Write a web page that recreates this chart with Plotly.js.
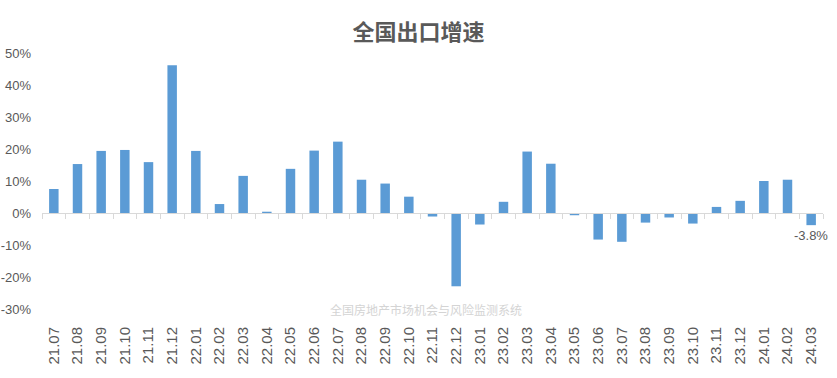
<!DOCTYPE html>
<html>
<head>
<meta charset="utf-8">
<script src="https://cdn.plot.ly/plotly-3.0.1.min.js"></script>
<style>html,body{margin:0;padding:0;background:#fff;}#chart{width:837px;height:378px;}</style>
</head>
<body>
<div id="chart"></div>
<script>
const months = ["21.07","21.08","21.09","21.10","21.11","21.12","22.01","22.02","22.03","22.04","22.05","22.06","22.07","22.08","22.09","22.10","22.11","22.12","23.01","23.02","23.03","23.04","23.05","23.06","23.07","23.08","23.09","23.10","23.11","23.12","24.01","24.02","24.03"];
const growth = [7.5,15.3,19.4,19.7,15.9,46.2,19.4,2.8,11.6,0.4,13.8,19.5,22.3,10.4,9.2,5.1,-1.1,-22.9,-3.6,3.5,19.2,15.4,-0.7,-8.3,-9.0,-3.0,-1.4,-3.3,1.9,3.8,10.0,10.4,-3.8];
const labelIndex = growth.length - 1;
const yTicks = [-30,-20,-10,0,10,20,30,40,50];

const font = "'Noto Sans CJK SC', 'Noto Sans', sans-serif";
const textColor = "#595959";
const barText = growth.map((v, i) => i === labelIndex ? v.toFixed(1) + "%" : "");

const trace = {
  type: "bar",
  x: months,
  y: growth,
  marker: {color: "#5b9bd5"},
  text: barText,
  textposition: "outside",
  constraintext: "none",
  textfont: {family: "'Liberation Sans', Arial, sans-serif", size: 13, color: textColor},
  cliponaxis: false,
  hoverinfo: "x+y"
};

const layout = {
  width: 837, height: 378,
  margin: {l: 42, r: 14, t: 53, b: 69},
  paper_bgcolor: "#fff", plot_bgcolor: "#fff",
  showlegend: false,
  bargap: 0.6,
  uniformtext: {mode: false},
  title: {text: "<b>全国出口增速</b>", x: 0.5, xanchor: "center", y: 0.915, yanchor: "middle",
          font: {family: font, size: 22, color: textColor}},
  xaxis: {
    type: "category",
    categoryorder: "array", categoryarray: months,
    range: [-0.5, months.length - 0.5],
    showline: false, ticks: "", showgrid: false, zeroline: false,
    tickangle: -90,
    ticklabelstandoff: 14,
    tickfont: {family: "'Liberation Sans', Arial, sans-serif", size: 15, color: textColor}
  },
  xaxis2: {
    type: "category",
    categoryorder: "array", categoryarray: months,
    range: [-0.5, months.length - 0.5],
    overlaying: "x", anchor: "free",
    position: (0 - yTicks[0]) / (yTicks[yTicks.length - 1] - yTicks[0]),
    showline: true, linecolor: "#d9d9d9", linewidth: 1,
    ticks: "outside", tickson: "boundaries", ticklen: 5, tickcolor: "#d9d9d9",
    showticklabels: false, showgrid: false, zeroline: false
  },
  yaxis: {
    range: [yTicks[0], yTicks[yTicks.length - 1]],
    tickvals: yTicks,
    ticktext: yTicks.map(v => v + "%"),
    showgrid: false, zeroline: false, showline: false, ticks: "",
    ticklabelstandoff: 10,
    tickfont: {family: "'Liberation Sans', Arial, sans-serif", size: 13, color: textColor}
  },
  annotations: [{
    text: "全国房地产市场机会与风险监测系统",
    xref: "paper", yref: "paper", x: 0.492, y: 0.0, yanchor: "middle", xanchor: "center",
    showarrow: false,
    font: {family: font, size: 12, color: "#d4d4d4"}
  }]
};

const ghost = {
  type: "bar", x: months, y: months.map(() => null), xaxis: "x2", yaxis: "y",
  hoverinfo: "skip", showlegend: false
};

Plotly.newPlot("chart", [trace, ghost], layout, {displayModeBar: false, staticPlot: true});
</script>
</body>
</html>
